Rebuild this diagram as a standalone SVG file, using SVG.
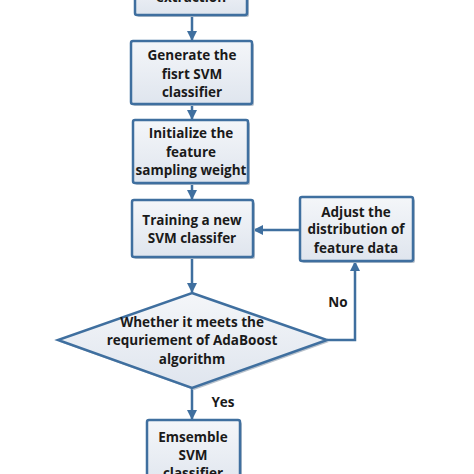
<svg xmlns="http://www.w3.org/2000/svg" width="474" height="474" viewBox="0 0 474 474">
<defs>
<linearGradient id="g" x1="0" y1="0" x2="0" y2="1">
<stop offset="0" stop-color="#f4f6f9"/>
<stop offset="1" stop-color="#dfe5ee"/>
</linearGradient>
<marker id="a" viewBox="0 0 10 10" refX="9" refY="5" markerWidth="5" markerHeight="5" orient="auto-start-reverse" markerUnits="userSpaceOnUse">
<path d="M0,0 L10,5 L0,10 z" fill="#3f6f9f"/>
</marker>
<marker id="ah" viewBox="0 0 10 10" refX="9" refY="5" markerWidth="10" markerHeight="10" orient="auto" markerUnits="userSpaceOnUse">
<path d="M0,0 L10,5 L0,10 z" fill="#3f6f9f"/>
</marker>
</defs>
<style>
.box{fill:url(#g);stroke:#3f6f9f;stroke-width:2.5}
.sh{fill:#b9c2cc}
.t{font-family:"Open Sans","Liberation Sans",sans-serif;font-weight:bold;font-size:13.5px;fill:#1a1a1a;text-anchor:middle}
.c{fill:none;stroke:#3f6f9f;stroke-width:2.5}
</style>
<rect width="474" height="474" fill="#ffffff"/>
<g id="connectors">
<line class="c" x1="192" y1="15" x2="192" y2="40" marker-end="url(#ah)"/>
<line class="c" x1="192" y1="104" x2="192" y2="119" marker-end="url(#ah)"/>
<line class="c" x1="192" y1="183" x2="192" y2="199" marker-end="url(#ah)"/>
<line class="c" x1="192" y1="257" x2="192" y2="292" marker-end="url(#ah)"/>
<line class="c" x1="300" y1="230" x2="254" y2="230" marker-end="url(#ah)"/>
<polyline class="c" points="327,340 355,340 355,262" marker-end="url(#ah)"/>
<line class="c" x1="192" y1="388" x2="192" y2="419" marker-end="url(#ah)"/>
<text class="t" x="338" y="307">No</text>
<text class="t" x="223" y="407">Yes</text>
</g>
<g id="n0">
<rect class="sh" x="137" y="-20" width="112" height="37" rx="2"/>
<rect class="box" x="135" y="-22" width="112" height="37" rx="2"/>
<text class="t" x="191" y="2">extraction</text>
</g>
<g id="n1">
<rect class="sh" x="133" y="43" width="121" height="63" rx="2"/>
<rect class="box" x="131" y="41" width="121" height="63" rx="2"/>
<text class="t" x="192" y="60">Generate the</text>
<text class="t" x="192" y="79">fisrt SVM</text>
<text class="t" x="192" y="97">classifier</text>
</g>
<g id="n2">
<rect class="sh" x="135" y="122" width="115" height="63" rx="2"/>
<rect class="box" x="133" y="120" width="115" height="63" rx="2"/>
<text class="t" x="191" y="138">Initialize the</text>
<text class="t" x="191" y="157">feature</text>
<text class="t" x="191" y="175">sampling weight</text>
</g>
<g id="n3">
<rect class="sh" x="134" y="202" width="121" height="57" rx="2"/>
<rect class="box" x="132" y="200" width="121" height="57" rx="2"/>
<text class="t" x="192" y="225">Training a new</text>
<text class="t" x="192" y="243">SVM classifer</text>
</g>
<g id="n4">
<rect class="sh" x="302" y="199" width="113" height="64" rx="2"/>
<rect class="box" x="300" y="197" width="113" height="64" rx="2"/>
<text class="t" x="356" y="217">Adjust the</text>
<text class="t" x="356" y="234">distribution of</text>
<text class="t" x="356" y="253">feature data</text>
</g>
<g id="n5">
<polygon points="194,295 329,342 194,390 60,342" fill="#b9c2cc"/>
<polygon class="box" points="192,293 327,340 192,388 58,340"/>
<text class="t" x="192" y="327">Whether it meets the</text>
<text class="t" x="192" y="345">requriement of AdaBoost</text>
<text class="t" x="192" y="364">algorithm</text>
</g>
<g id="n6">
<rect class="sh" x="149" y="422" width="93" height="70" rx="2"/>
<rect class="box" x="147" y="420" width="93" height="70" rx="2"/>
<text class="t" x="193" y="442">Emsemble</text>
<text class="t" x="193" y="460">SVM</text>
<text class="t" x="193" y="478">classifier</text>
</g>
</svg>
